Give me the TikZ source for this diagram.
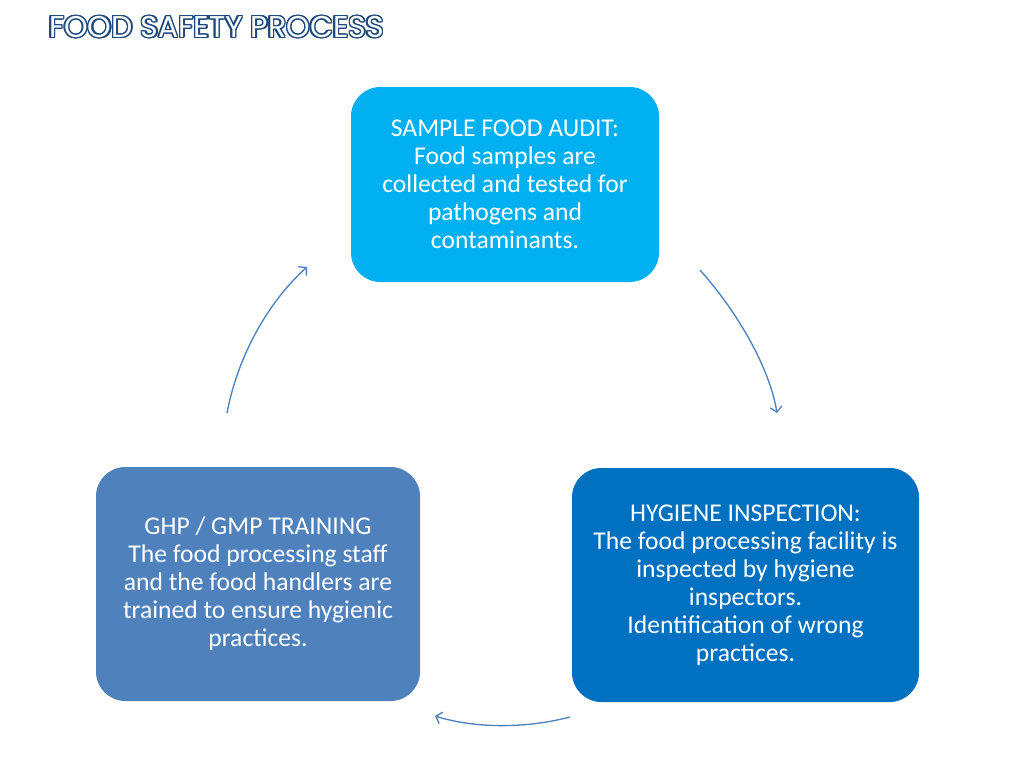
\documentclass[tikz,border=0pt]{standalone}
\usepackage{fontspec}
\setmainfont{Carlito}
\newfontfamily\titlefont{Poppins}
\usetikzlibrary{arrows.meta}
\definecolor{cyanbox}{RGB}{0,176,240}
\definecolor{bluebox}{RGB}{0,112,192}
\definecolor{steelbox}{RGB}{79,129,189}
\definecolor{arrowc}{RGB}{79,129,189}
\definecolor{titleblue}{RGB}{31,73,125}
\begin{document}
\begin{tikzpicture}[x=0.75pt,y=-0.75pt,
  box/.style={rounded corners=22pt, text=white, align=center,
    font=\fontsize{19.2}{21}\selectfont, inner sep=0pt},
  cyc/.style={draw=arrowc, line width=1pt, -{Straight Barb[length=4pt,width=9pt]}},
  ttl/.style={anchor=west, inner sep=0pt, font=\titlefont\fontsize{22.5}{26}\selectfont}]
\useasboundingbox (0,0) rectangle (1024,768);
\fill[white] (0,0) rectangle (1024,768);
% title (outlined text)
\foreach \a in {0,22.5,...,337.5}
  \node[ttl, text=titleblue] at ([shift={(\a:1.1pt)}]49,27) {FOOD SAFETY PROCESS};
\node[ttl, text=white] (title) at (49,27) {FOOD SAFETY PROCESS};
% boxes
\node[box, fill=cyanbox, minimum width=231pt, minimum height=146.25pt] (audit) at (505,184.5)
  {SAMPLE FOOD AUDIT:\\Food samples are\\collected and tested for\\pathogens and\\contaminants.};
\node[box, fill=bluebox, minimum width=260.25pt, minimum height=175.5pt] (hyg) at (745.5,585)
  {HYGIENE INSPECTION:\\The food processing facility is\\inspected by hygiene\\inspectors.\\Identification of wrong\\practices.};
\node[box, fill=steelbox, minimum width=243pt, minimum height=175.5pt] (ghp) at (258,584)
  {GHP / GMP TRAINING\\The food processing staff\\and the food handlers are\\trained to ensure hygienic\\practices.};
% connectors
\coordinate (a1) at (700,270); \coordinate (a2) at (777,413);
\coordinate (b1) at (570,717); \coordinate (b2) at (435,716);
\coordinate (c1) at (227,413); \coordinate (c2) at (307,267);
\draw[cyc] (a1) .. controls (740,315) and (770,370) .. (a2);
\draw[cyc] (b1) .. controls (520,730) and (470,727) .. (b2);
\draw[cyc] (c1) .. controls (237,360) and (265,305) .. (c2);
\end{tikzpicture}
\end{document}
